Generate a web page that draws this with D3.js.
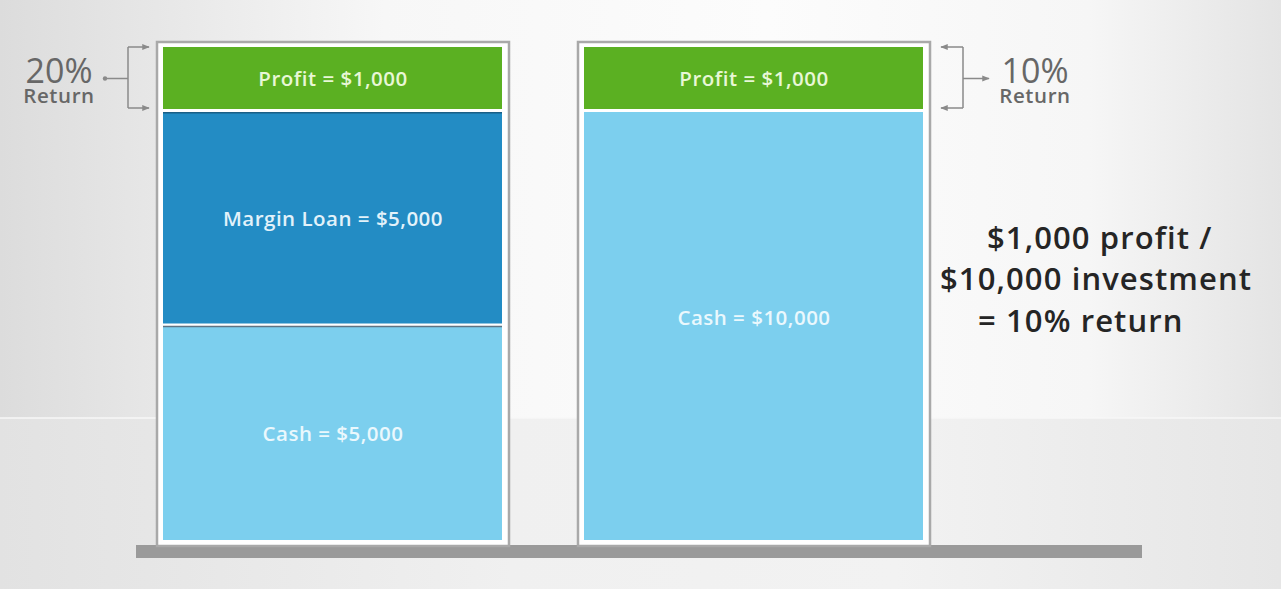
<!DOCTYPE html>
<html><head><meta charset="utf-8">
<script src="https://cdn.jsdelivr.net/npm/d3@7"></script>
<style>html,body{margin:0;padding:0;overflow:hidden;background:#f2f2f2}</style>
</head><body>
<svg id="chart" width="1281" height="589"></svg>
<script>
// ---- data ----
const columns = ["Margin", "Cash only"];
const segmentNames = ["Cash", "Margin Loan", "Profit"];
const marginValues = [5000, 5000, 1000];     // Cash, Margin Loan, Profit
const cashOnlyValues = [10000, 0, 1000];      // Cash, Margin Loan, Profit
const segmentLabels = [
  ["Cash = $5,000", "Margin Loan = $5,000", "Profit = $1,000"],
  ["Cash = $10,000", "", "Profit = $1,000"]
];
const returnLabels = ["20%", "10%"];
const returnSub = "Return";
const noteLines = ["$1,000 profit /", "$10,000 investment", "= 10% return"];

const svg = d3.select("#chart");
const W = 1281, H = 589;
const defs = svg.append("defs");
const FONT = "'Open Sans', Lato, sans-serif";

// background
const bg = defs.append("linearGradient").attr("id","bg").attr("x1",0).attr("x2",1).attr("y1",0).attr("y2",0);
bg.append("stop").attr("offset",0).attr("stop-color","#dcdcdc");
bg.append("stop").attr("offset",0.3).attr("stop-color","#f7f7f7");
bg.append("stop").attr("offset",0.6).attr("stop-color","#fcfcfc");
bg.append("stop").attr("offset",0.85).attr("stop-color","#f6f6f6");
bg.append("stop").attr("offset",1).attr("stop-color","#e4e4e4");
const fl = defs.append("linearGradient").attr("id","floor").attr("x1",0).attr("x2",1).attr("y1",0).attr("y2",0);
fl.append("stop").attr("offset",0).attr("stop-color","#e2e2e2");
fl.append("stop").attr("offset",0.4).attr("stop-color","#f0f0f0");
fl.append("stop").attr("offset",0.7).attr("stop-color","#f2f2f2");
fl.append("stop").attr("offset",1).attr("stop-color","#e6e6e6");
svg.append("rect").attr("width",W).attr("height",H).attr("fill","url(#bg)");
svg.append("rect").attr("y",418).attr("width",W).attr("height",H-418).attr("fill","url(#floor)");
svg.append("line").attr("x1",0).attr("x2",W).attr("y1",418).attr("y2",418).attr("stroke","#f7f7f7").attr("stroke-width",1.5);

// scales
const x = d3.scaleBand().domain(columns).range([157, 930]).paddingInner(0.1639).paddingOuter(0);
const y = d3.scaleLinear().domain([0, 10000, 11000]).range([540, 111, 47]);

const colors = {"Cash":"#7ccfee", "Margin Loan":"#238cc4", "Profit":"#5bb022"};
const textColors = {"Cash":"#eaf8fd", "Margin Loan":"#e2f2fa", "Profit":"#e8f7d6"};

// floor bar
svg.append("rect").attr("x",136).attr("y",545).attr("width",1142-136).attr("height",13).attr("fill","#9a9a9a");

const allValues = [marginValues, cashOnlyValues];
columns.forEach((col, ci) => {
  const x0 = x(col), bw = x.bandwidth();
  const g = svg.append("g");
  g.append("rect").attr("x",x0).attr("y",y(11000)-5).attr("width",bw).attr("height",546-(y(11000)-5))
    .attr("fill","#ffffff").attr("stroke","#a9a9a9").attr("stroke-width",2.5);
  let cum = 0;
  const segs = allValues[ci].map((v,i) => { const s = {name:segmentNames[i], v, y0:cum, y1:cum+v, label:segmentLabels[ci][i]}; cum += v; return s; })
    .filter(s => s.v > 0);
  segs.forEach((s, si) => {
    const top = y(s.y1) + (si === segs.length-1 ? 0 : 1);
    const bot = y(s.y0) - (si === 0 ? 0 : 2);
    g.append("rect").attr("x",x0+6).attr("y",top).attr("width",bw-13).attr("height",bot-top).attr("fill",colors[s.name]);
    if (si > 0 && si < segs.length-1) {
      g.append("line").attr("x1",x0+6).attr("x2",x0+bw-7).attr("y1",top+0.75).attr("y2",top+0.75).attr("stroke","#1b5f86").attr("stroke-width",1.5);
    }
    const cy = (s.name === "Cash" && s.v >= 10000) ? (top+bot)/2 - 8 : (top+bot)/2 + 1;
    g.append("text").attr("x",x0+bw/2).attr("y",cy).attr("dy","0.35em")
      .attr("text-anchor","middle").attr("fill",textColors[s.name])
      .style("font-family",FONT).style("font-weight",600).style("font-size","20.5px").style("letter-spacing","0.5px")
      .text(s.label);
  });
  if (segs.length === 3) {
    const yy = y(segs[0].y1) + 1;
    g.append("line").attr("x1",x0+6).attr("x2",x0+bw-7).attr("y1",yy).attr("y2",yy).attr("stroke","#5f7482").attr("stroke-width",1.5);
  }
});

// arrow markers
defs.append("marker").attr("id","ah").attr("viewBox","0 0 10 10").attr("refX",9).attr("refY",5)
  .attr("markerWidth",5).attr("markerHeight",5).attr("orient","auto")
  .append("path").attr("d","M0,1 L10,5 L0,9 Z").attr("fill","#8a8a8a");
const bc = "#8a8a8a";
const yTop = y(11000), yBot = y(10000) - 3, yMid = (yTop + yBot)/2 + 1;

// left bracket
const lb = svg.append("g").attr("fill","none").attr("stroke",bc).attr("stroke-width",1.5);
lb.append("line").attr("x1",128).attr("x2",128).attr("y1",yTop).attr("y2",yBot);
lb.append("line").attr("x1",128).attr("x2",149).attr("y1",yTop).attr("y2",yTop).attr("marker-end","url(#ah)");
lb.append("line").attr("x1",128).attr("x2",149).attr("y1",yBot).attr("y2",yBot).attr("marker-end","url(#ah)");
lb.append("line").attr("x1",128).attr("x2",106).attr("y1",yMid).attr("y2",yMid);
svg.append("circle").attr("cx",105).attr("cy",yMid).attr("r",2.2).attr("fill",bc);

// right bracket
const rb = svg.append("g").attr("fill","none").attr("stroke",bc).attr("stroke-width",1.5);
rb.append("line").attr("x1",963).attr("x2",963).attr("y1",yTop).attr("y2",yBot);
rb.append("line").attr("x1",963).attr("x2",941).attr("y1",yTop).attr("y2",yTop).attr("marker-end","url(#ah)");
rb.append("line").attr("x1",963).attr("x2",941).attr("y1",yBot).attr("y2",yBot).attr("marker-end","url(#ah)");
rb.append("line").attr("x1",963).attr("x2",989).attr("y1",yMid).attr("y2",yMid).attr("marker-end","url(#ah)");

// return labels (two-line labels)
const retX = [59, 1035];
returnLabels.forEach((t,i) => {
  const tx = svg.append("text").attr("text-anchor","middle").attr("fill","#676767").style("font-family",FONT);
  tx.append("tspan").attr("x",retX[i]).attr("y",83).style("font-size","34px").style("font-weight",400).text(t);
  tx.append("tspan").attr("x",retX[i]).attr("y",103).style("font-size","20.5px").style("font-weight",600)
    .style("letter-spacing","0.6px").text(returnSub);
});

// note
const noteX = [987, 940, 978];
const noteY = [249, 290, 332];
noteLines.forEach((t,i) => {
  svg.append("text").attr("x",noteX[i]).attr("y",noteY[i]).attr("fill","#252525")
    .style("font-family",FONT).style("font-size","31px").style("font-weight",600).style("letter-spacing","1.1px").text(t);
});
</script>
</body></html>
